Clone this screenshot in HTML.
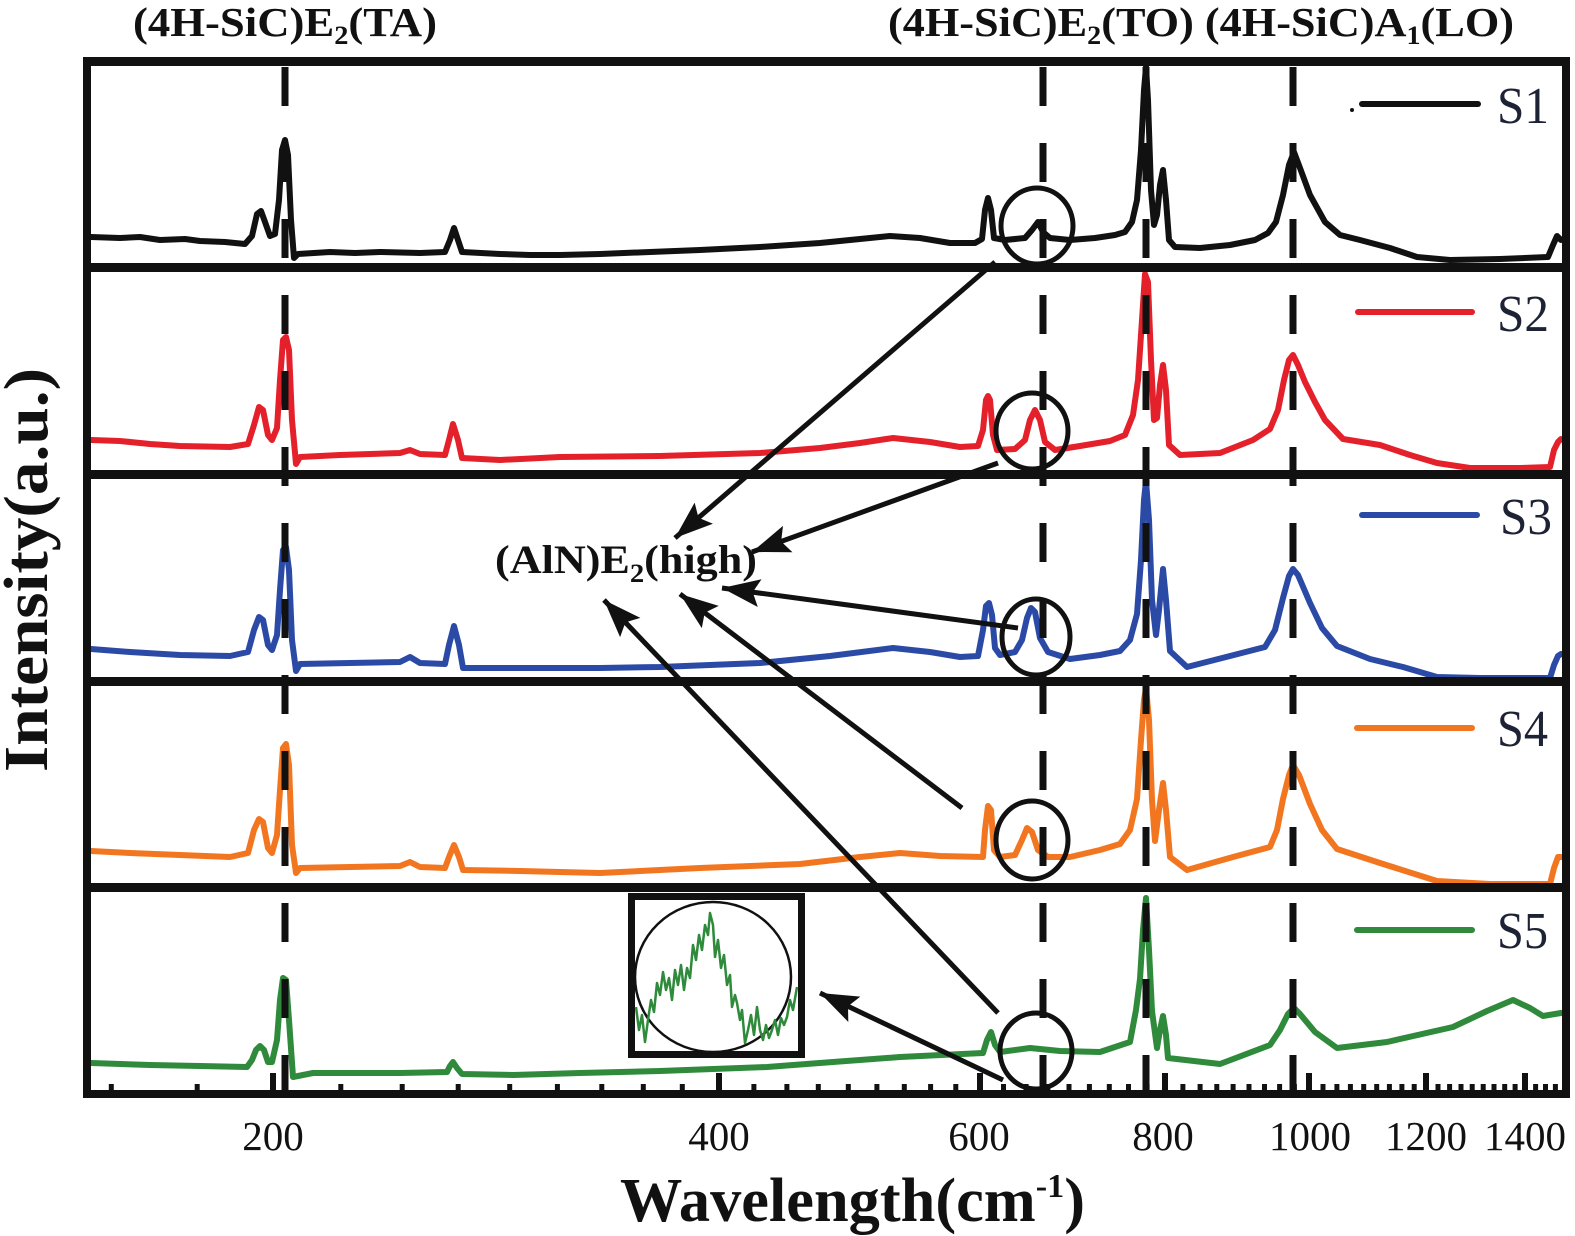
<!DOCTYPE html>
<html>
<head>
<meta charset="utf-8">
<style>
  html,body{margin:0;padding:0;background:#fff;}
  svg{display:block;}
  text{font-family:"Liberation Serif","Times New Roman",serif;fill:#111;}
</style>
</head>
<body>
<svg width="1575" height="1236" viewBox="0 0 1575 1236" xmlns="http://www.w3.org/2000/svg" font-family="'Liberation Serif', serif">
  <defs>
    <marker id="ah" viewBox="0 -16 40 32" refX="0" refY="0" markerWidth="40" markerHeight="32" markerUnits="userSpaceOnUse" orient="auto">
      <path d="M0,0 L38,-14 L31,0 L38,14 Z" fill="#111"/>
    </marker>
  </defs>
  <rect x="0" y="0" width="1575" height="1236" fill="#fff"/>

  <!-- ===== spectra ===== -->
  <g fill="none" stroke-width="6" stroke-linejoin="round" stroke-linecap="round">
    <!-- S1 black -->
    <path stroke="#111" d="M91,237 L120,238 L140,237 L160,240 L185,239 L200,241 L225,242 L245,244 L252,236 L257,214 L261,211 L265,222 L270,236 L275,234 L279,200 L282,150 L285,140 L288,155 L291,220 L294,258 L298,254 L330,252 L355,253 L380,252 L420,253 L445,252 L450,240 L454,228 L458,240 L462,252 L500,254 L530,255 L560,255 L600,254 L650,252 L700,250 L760,247 L820,243 L860,239 L890,236 L920,238 L950,243 L975,243 L982,239 L985,210 L988,198 L991,210 L994,238 L1005,240 L1025,238 L1032,230 L1038,222 L1043,232 L1050,238 L1070,240 L1095,238 L1115,235 L1125,232 L1132,222 L1137,200 L1141,150 L1144,90 L1146,67 L1148,100 L1151,190 L1154,225 L1157,215 L1160,185 L1163,170 L1166,200 L1169,240 L1175,247 L1200,248 L1230,245 L1255,240 L1268,233 L1276,222 L1283,195 L1289,165 L1294,152 L1300,168 L1310,195 L1325,222 L1340,235 L1360,240 L1390,248 L1417,257 L1450,260 L1500,259 L1548,257 L1553,245 L1557,236 L1561,240"/>
    <!-- S2 red -->
    <path stroke="#e4212b" d="M91,440 L120,441 L150,444 L180,446 L230,447 L248,444 L254,425 L259,407 L263,410 L268,435 L272,440 L277,428 L280,380 L283,340 L286,337 L289,350 L292,420 L296,464 L300,457 L340,455 L400,453 L410,450 L420,454 L445,455 L449,440 L453,424 L458,440 L462,458 L500,460 L560,457 L660,456 L760,453 L820,448 L860,443 L893,438 L930,442 L960,447 L978,446 L983,430 L986,400 L988,396 L990,400 L993,435 L997,450 L1015,449 L1025,440 L1030,420 L1035,410 L1040,420 L1045,442 L1055,450 L1080,446 L1110,441 L1125,435 L1133,415 L1138,380 L1142,320 L1145,274 L1148,282 L1151,360 L1154,420 L1157,418 L1160,385 L1163,365 L1166,390 L1169,445 L1180,455 L1220,453 L1253,440 L1270,429 L1278,410 L1284,380 L1289,360 L1293,355 L1298,365 L1305,382 L1315,402 L1325,420 L1343,439 L1380,445 L1410,455 L1437,463 L1470,468 L1520,468 L1550,467 L1554,450 L1558,442 L1561,439"/>
    <!-- S3 blue -->
    <path stroke="#2b4aa6" d="M91,649 L130,652 L180,655 L230,656 L248,652 L254,630 L259,617 L263,620 L268,645 L272,650 L277,635 L280,590 L283,550 L286,547 L289,570 L292,640 L296,671 L300,664 L350,663 L400,662 L410,657 L420,663 L445,664 L449,645 L454,626 L459,645 L463,668 L520,668 L600,668 L660,667 L760,663 L830,656 L893,648 L930,652 L960,657 L978,656 L983,630 L986,606 L989,603 L992,615 L995,648 L1000,655 L1015,652 L1022,640 L1027,618 L1031,608 L1035,612 L1040,638 L1048,652 L1070,659 L1100,655 L1120,651 L1130,640 L1137,614 L1141,560 L1144,500 L1146,481 L1149,520 L1152,600 L1156,635 L1159,610 L1163,569 L1166,600 L1170,651 L1187,667 L1230,656 L1265,647 L1275,630 L1283,598 L1289,576 L1293,569 L1298,575 L1310,603 L1322,628 L1337,646 L1370,659 L1403,667 L1437,677 L1480,678 L1550,678 L1554,665 L1558,656 L1561,654"/>
    <!-- S4 orange -->
    <path stroke="#f27620" d="M91,851 L130,853 L180,855 L230,857 L248,853 L254,830 L259,819 L263,822 L268,848 L272,853 L277,835 L280,790 L283,748 L286,744 L289,765 L292,845 L296,873 L300,868 L350,867 L400,866 L410,862 L420,867 L445,868 L449,857 L454,845 L459,857 L463,870 L520,871 L600,873 L700,868 L800,864 L860,857 L900,853 L940,856 L983,857 L985,830 L988,806 L991,810 L994,850 L1000,857 L1015,855 L1022,840 L1027,828 L1032,832 L1038,850 L1048,857 L1070,857 L1100,850 L1120,844 L1130,830 L1137,799 L1141,740 L1144,700 L1146,688 L1149,720 L1152,800 L1155,841 L1159,810 L1163,783 L1166,810 L1170,857 L1187,870 L1233,857 L1270,847 L1277,830 L1283,799 L1289,775 L1293,765 L1299,775 L1310,804 L1322,830 L1337,849 L1380,863 L1437,881 L1490,884 L1550,884 L1554,868 L1558,857 L1561,857"/>
    <!-- S5 green -->
    <path stroke="#2f8a3b" d="M91,1063 L150,1065 L200,1066 L247,1067 L252,1060 L256,1050 L260,1046 L264,1050 L268,1062 L272,1062 L277,1040 L280,1000 L283,978 L286,980 L289,1020 L293,1077 L313,1073 L400,1073 L447,1072 L450,1066 L453,1062 L457,1068 L462,1074 L513,1075 L580,1073 L660,1071 L767,1067 L833,1062 L900,1057 L983,1053 L987,1040 L991,1032 L995,1045 L1000,1052 L1030,1048 L1060,1051 L1100,1052 L1130,1042 L1136,1010 L1140,979 L1143,930 L1146,898 L1149,950 L1152,1011 L1157,1048 L1160,1030 L1163,1016 L1166,1035 L1168,1058 L1220,1064 L1270,1045 L1280,1030 L1288,1014 L1294,1008 L1300,1014 L1315,1032 L1337,1048 L1387,1042 L1453,1027 L1487,1011 L1513,1000 L1530,1008 L1543,1016 L1561,1013"/>
  </g>

  <!-- ===== dashed reference lines ===== -->
  <g stroke="#111" stroke-width="7" stroke-dasharray="39 37" fill="none">
    <line x1="285" y1="67" x2="285" y2="1090"/>
    <line x1="1043" y1="67" x2="1043" y2="1090"/>
    <line x1="1146" y1="67" x2="1146" y2="1090"/>
    <line x1="1293" y1="67" x2="1293" y2="1090"/>
  </g>

  <!-- ===== frame & separators ===== -->
  <g fill="#111">
    <rect x="83" y="57" width="1487" height="9"/>
    <rect x="83" y="263" width="1487" height="9"/>
    <rect x="83" y="470" width="1487" height="9"/>
    <rect x="83" y="677" width="1487" height="9"/>
    <rect x="83" y="883" width="1487" height="9"/>
    <rect x="83" y="1090" width="1487" height="8"/>
    <rect x="83" y="57" width="8" height="1041"/>
    <rect x="1562" y="57" width="8" height="1041"/>
  </g>

  <!-- ===== ticks ===== -->
  <g stroke="#111" stroke-width="5" fill="none">
    <path d="M111.3,1084V1090 M197.2,1084V1090 M340.8,1084V1090 M402.2,1084V1090 M458.2,1084V1090 M509.7,1084V1090 M557.4,1084V1090 M601.8,1084V1090 M643.3,1084V1090 M682.3,1084V1090 M753.9,1084V1090 M786.9,1084V1090 M818.3,1084V1090 M848.3,1084V1090 M876.9,1084V1090 M904.3,1084V1090 M930.6,1084V1090 M955.8,1084V1090 M1003.5,1084V1090 M1026.1,1084V1090 M1047.9,1084V1090 M1069,1084V1090 M1089.4,1084V1090 M1109.3,1084V1090 M1128.5,1084V1090 M1147.1,1084V1090 M1182.9,1084V1090 M1200.1,1084V1090 M1216.8,1084V1090 M1233.1,1084V1090 M1249,1084V1090 M1264.5,1084V1090 M1279.6,1084V1090 M1294.4,1084V1090 M1323,1084V1090 M1336.9,1084V1090 M1350.4,1084V1090 M1363.7,1084V1090 M1376.7,1084V1090 M1389.4,1084V1090 M1401.9,1084V1090 M1414.2,1084V1090 M1438,1084V1090 M1449.6,1084V1090 M1461,1084V1090 M1472.2,1084V1090 M1483.2,1084V1090 M1494,1084V1090 M1504.7,1084V1090 M1515.1,1084V1090 M1535.6,1084V1090 M1545.5,1084V1090 M1555.4,1084V1090"/>
    <path stroke-width="6" d="M273,1073V1090 M719,1073V1090 M980,1073V1090 M1165,1073V1090 M1309,1073V1090 M1426,1073V1090 M1525,1073V1090"/>
  </g>

  <!-- ===== tick labels ===== -->
  <g font-size="41" text-anchor="middle" font-family="'Liberation Serif', serif">
    <text x="273" y="1150">200</text>
    <text x="719" y="1150">400</text>
    <text x="979" y="1150">600</text>
    <text x="1163" y="1150">800</text>
    <text x="1310" y="1150">1000</text>
    <text x="1426" y="1150">1200</text>
    <text x="1525" y="1150">1400</text>
  </g>

  <!-- ===== circles ===== -->
  <g fill="none" stroke="#111" stroke-width="5">
    <ellipse cx="1037" cy="226" rx="36" ry="38"/>
    <ellipse cx="1032" cy="431" rx="36" ry="38"/>
    <ellipse cx="1036" cy="637" rx="34" ry="38"/>
    <ellipse cx="1032" cy="840" rx="36" ry="39"/>
    <ellipse cx="1036" cy="1051" rx="36" ry="38"/>
  </g>

  <!-- ===== arrows ===== -->
  <g stroke="#111" stroke-width="5" fill="none">
    <path d="M675,538 L995,262" marker-start="url(#ah)"/>
    <path d="M752,552 L998,463" marker-start="url(#ah)"/>
    <path d="M722,588 L1018,628" marker-start="url(#ah)"/>
    <path d="M680,594 L962,808" marker-start="url(#ah)"/>
    <path d="M604,600 L998,1013" marker-start="url(#ah)"/>
    <path d="M820,993 L1003,1080" marker-start="url(#ah)"/>
  </g>

  <!-- ===== inset ===== -->
  <rect x="631.5" y="896.5" width="170" height="158" fill="#fff" stroke="#111" stroke-width="7"/>
  <ellipse cx="713" cy="977" rx="78" ry="75" fill="none" stroke="#111" stroke-width="2.5"/>
  <path fill="none" stroke="#2f8a3b" stroke-width="2.5" stroke-linejoin="round" d="M636,1007 L639,1030 L642,1015 L645,1042 L648,1020 L651,1000 L654,1012 L657,983 L660,995 L663,972 L666,990 L669,978 L672,1000 L675,970 L678,985 L681,965 L684,990 L687,968 L690,978 L693,945 L696,960 L699,935 L702,950 L705,925 L708,935 L710,913 L713,925 L715,957 L718,940 L721,968 L724,955 L727,985 L730,975 L732,1007 L735,995 L737,1003 L740,1020 L742,1010 L745,1043 L748,1030 L751,1015 L754,1035 L757,1007 L760,1030 L763,1040 L766,1025 L769,1038 L772,1030 L775,1020 L778,1035 L781,1018 L784,1025 L787,1017 L790,1000 L793,1010 L797,987"/>

  <!-- ===== legend ===== -->
  <g stroke-width="6" stroke-linecap="round">
    <line x1="1362" y1="104" x2="1478" y2="104" stroke="#111"/>
    <line x1="1358" y1="312" x2="1472" y2="312" stroke="#e4212b"/>
    <line x1="1362" y1="515" x2="1477" y2="515" stroke="#2b4aa6"/>
    <line x1="1357" y1="728" x2="1472" y2="728" stroke="#f27620"/>
    <line x1="1357" y1="930" x2="1472" y2="930" stroke="#2f8a3b"/>
  </g>
  <circle cx="1352" cy="110" r="2" fill="#111"/>
  <g font-size="52" font-family="'Liberation Serif', serif">
    <text x="1497" y="123" textLength="52" lengthAdjust="spacingAndGlyphs" style="fill:#1d2235">S1</text>
    <text x="1497" y="331" textLength="52" lengthAdjust="spacingAndGlyphs" style="fill:#1d2235">S2</text>
    <text x="1500" y="534" textLength="52" lengthAdjust="spacingAndGlyphs" style="fill:#1d2235">S3</text>
    <text x="1497" y="746" textLength="51" lengthAdjust="spacingAndGlyphs" style="fill:#1d2235">S4</text>
    <text x="1497" y="948" textLength="51" lengthAdjust="spacingAndGlyphs" style="fill:#1d2235">S5</text>
  </g>

  <!-- ===== annotations ===== -->
  <text x="133" y="36" font-size="41" font-weight="bold" font-family="'Liberation Serif', serif" textLength="304" lengthAdjust="spacingAndGlyphs">(4H-SiC)E<tspan font-size="26" dy="8">2</tspan><tspan dy="-8">(TA)</tspan></text>
  <text x="888" y="36" font-size="41" font-weight="bold" font-family="'Liberation Serif', serif" textLength="626" lengthAdjust="spacingAndGlyphs">(4H-SiC)E<tspan font-size="26" dy="8">2</tspan><tspan dy="-8">(TO) (4H-SiC)A</tspan><tspan font-size="26" dy="8">1</tspan><tspan dy="-8">(LO)</tspan></text>
  <text x="495" y="573" font-size="40" font-weight="bold" font-family="'Liberation Serif', serif" textLength="262" lengthAdjust="spacingAndGlyphs">(AlN)E<tspan font-size="26" dy="9">2</tspan><tspan dy="-9">(high)</tspan></text>

  <!-- ===== axis titles ===== -->
  <text x="620" y="1221" font-size="62" font-weight="bold" font-family="'Liberation Serif', serif" textLength="465" lengthAdjust="spacingAndGlyphs">Wavelength(cm<tspan font-size="34" dy="-24">-1</tspan><tspan dy="24">)</tspan></text>
  <text transform="translate(47,570) rotate(-90)" text-anchor="middle" font-size="62" font-weight="bold" font-family="'Liberation Serif', serif" textLength="404" lengthAdjust="spacingAndGlyphs">Intensity(a.u.)</text>
</svg>
</body>
</html>
